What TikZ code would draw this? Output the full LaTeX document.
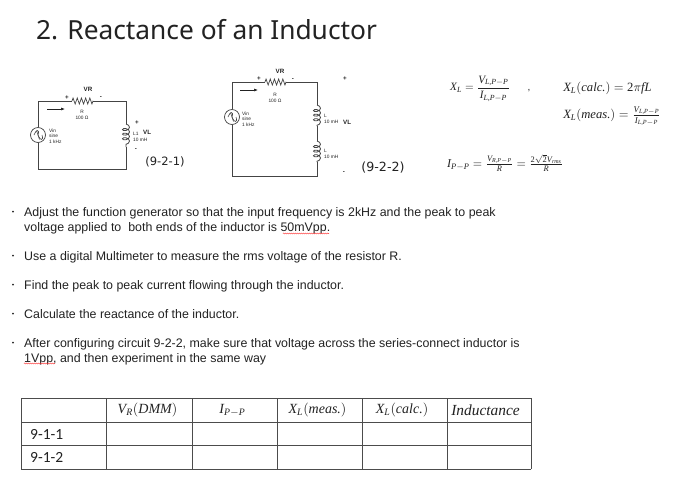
\documentclass[tikz,border=0pt]{standalone}
\usepackage{amsmath}
\usepackage[no-math]{fontspec}
\setmainfont{Liberation Sans}
\newfontfamily\titlefont{Noto Sans}
\newfontfamily\handfont{DejaVu Sans}
\newfontfamily\mfont{Liberation Serif}
\newfontfamily\rowfont{Carlito}
\usetikzlibrary{decorations.pathmorphing,arrows.meta}
\definecolor{ink}{HTML}{222222}
\definecolor{wire}{HTML}{444444}
\newcommand{\mi}[1]{\text{\mfont\itshape #1}}
\newcommand{\mr}[1]{\text{\mfont #1}}
\tikzset{
  wireline/.style={draw=wire,line width=0.8pt},
  res/.style={draw=wire,line width=0.7pt,decorate,decoration={zigzag,amplitude=3pt,segment length=4.2pt}},
  coil/.style={draw=wire,line width=0.8pt,decorate,decoration={coil,amplitude=3.5pt,segment length=4.6pt,aspect=0.6}},
  srcnode/.style={circle,draw=wire,line width=0.7pt,minimum size=15pt,inner sep=0pt},
  tiny/.style={font=\fontsize{4.8}{5.6}\selectfont,text=ink,inner sep=0pt,align=left},
  big/.style={font=\bfseries\fontsize{6.2}{7}\selectfont,text=ink,inner sep=0pt},
  hand/.style={font=\handfont\fontsize{11.5}{13}\selectfont,text=ink,inner sep=0pt},
  arrowline/.style={draw=ink,line width=0.6pt,-{Latex[length=4pt,width=3pt]}},
  body/.style={font=\fontsize{12.4}{14.5}\selectfont,text=ink,inner sep=0pt,anchor=base west},
  bullet/.style={circle,fill=ink,inner sep=0pt,minimum size=2pt},
  mth/.style={inner sep=0pt,text=ink},
  hdr/.style={inner sep=0pt,text=ink,scale=1.4},
  rowlab/.style={font=\rowfont\fontsize{15.5}{17}\selectfont,text=ink,inner sep=0pt,anchor=west},
  grid/.style={draw=black!70,line width=0.7pt},
  squig/.style={draw=red!80,line width=0.5pt,decorate,decoration={snake,amplitude=0.5pt,segment length=2pt}}
}
\newcommand{\srcwave}[1]{%
  \draw[wire,line width=0.6pt] ([xshift=-4pt]#1.center) .. controls +(2,-6) and +(2,-6) .. (#1.center) .. controls +(2,6) and +(2,6) .. ([xshift=4pt]#1.center);
  \draw[wire,line width=0.5pt] ([shift={(-1.5,-4.5)}]#1.center) -- ([shift={(1.5,4.5)}]#1.center);}
\begin{document}
\begin{tikzpicture}[x=1pt,y=-1pt]
\useasboundingbox[fill=white] (0,0) rectangle (700,496);
% title
\node[anchor=west,inner sep=0pt,text=ink,font=\titlefont\fontsize{26.3}{32}\selectfont] (title) at (36,30) {2. Reactance of an Inductor};

% circuit 9-2-1
\node[srcnode] (s1) at (38,135) {};
\srcwave{s1}
\coordinate (r1a) at (72,101);
\coordinate (r1b) at (93,101);
\coordinate (l1a) at (126,124);
\coordinate (l1b) at (126,147);
\coordinate (c1) at (38,169);
\coordinate (c2) at (126,169);
\path[wireline] (s1) |- (r1a);
\path[res] (r1a) -- (r1b);
\path[wireline] (r1b) -| (l1a);
\path[coil] (l1a) -- (l1b);
\path[wireline] (l1b) -- (c2) -- (c1) -- (s1);
\coordinate (a1s) at (47,109); \coordinate (a1e) at (65,109);
\path[arrowline] (a1s) -- (a1e);
\node[big] (vr1) at (88,89) {VR};
\node[big] (p1) at (67,98) {+};
\node[big] (m1) at (101,98) {-};
\node[tiny,align=center] (rl1) at (82,115) {R\\100 Ω};
\node[tiny,anchor=west] (vin1) at (49,136) {Vin\\sine\\1 kHz};
\node[big] (p2) at (137,123) {+};
\node[big] (m2) at (136,150) {-};
\node[tiny,anchor=west] (ll1) at (133,137) {L1\\10 mH};
\node[big,anchor=west] (vl1) at (143,132) {VL};
\node[hand] (h1) at (165,162) {(9-2-1)};

% circuit 9-2-2
\node[srcnode] (s2) at (232,117) {};
\srcwave{s2}
\coordinate (r2a) at (265,82);
\coordinate (r2b) at (286,82);
\coordinate (l2a) at (317,105);
\coordinate (l2b) at (317,126);
\coordinate (l3a) at (317,141);
\coordinate (l3b) at (317,162);
\coordinate (d1) at (317,176);
\coordinate (d2) at (232,176);
\path[wireline] (s2) |- (r2a);
\path[res] (r2a) -- (r2b);
\path[wireline] (r2b) -| (l2a);
\path[coil] (l2a) -- (l2b);
\path[wireline] (l2b) -- (l3a);
\path[coil] (l3a) -- (l3b);
\path[wireline] (l3b) -- (d1) -- (d2) -- (s2);
\coordinate (a2s) at (240,90); \coordinate (a2e) at (258,90);
\path[arrowline] (a2s) -- (a2e);
\node[big] (vr2) at (280,71) {VR};
\node[big] (p3) at (259,79) {+};
\node[big] (m3) at (293,80) {-};
\node[big] (p4) at (345,79) {+};
\node[big] (m4) at (344,173) {-};
\node[tiny,align=center] (rl2) at (275,98) {R\\100 Ω};
\node[tiny,anchor=west] (vin2) at (242,119) {Vin\\sine\\1 kHz};
\node[tiny,anchor=west] (ll2) at (324,119) {L\\10 mH};
\node[tiny,anchor=west] (ll3) at (324,154) {L\\10 mH};
\node[big,anchor=west] (vl2) at (343,122) {VL};
\node[hand,scale=1.1] (h2) at (383,168) {(9-2-2)};

% formulas
\node[mth,anchor=west,scale=1.12] (f1) at (450,88.5) {$\displaystyle \mi{X}_{\mi{L}}=\frac{\mi{V}_{\mi{L,P}-\mi{P}}}{\mi{I}_{\mi{L,P}-\mi{P}}}$};
\node[mth] (comma) at (529,91) {,};
\node[mth,anchor=west,scale=1.26] (f2) at (563,88) {$\mi{X}_{\mi{L}}(\mi{calc.})=\mr{2}\pi\mi{fL}$};
\node[mth,anchor=west,scale=1.26] (f3) at (563,116) {$\mi{X}_{\mi{L}}(\mi{meas.})=\frac{\mi{V}_{\mi{L,P}-\mi{P}}}{\mi{I}_{\mi{L,P}-\mi{P}}}$};
\node[mth,anchor=west,scale=1.2] (f4) at (447,163) {$\mi{I}_{\mi{P}-\mi{P}}=\frac{\mi{V}_{\mi{R,P}-\mi{P}}}{\mi{R}}=\frac{\mr{2}\sqrt{\mr{2}}\mi{V}_{\mi{rms}}}{\mi{R}}$};

% bullet text
\foreach \n/\y in {b1/212,b2/256,b3/285,b4/314,b5/343} \node[bullet] (\n) at (13,\y-0.5) {};
\node[body] (t1) at (24,216) {Adjust the function generator so that the input frequency is 2kHz and the peak to peak};
\node[body] (t1b) at (24,231) {voltage applied to\ \ both ends of the inductor is 50mVpp.};
\node[body] (t2) at (24,260) {Use a digital Multimeter to measure the rms voltage of the resistor R.};
\node[body] (t3) at (24,289) {Find the peak to peak current flowing through the inductor.};
\node[body] (t4) at (24,318) {Calculate the reactance of the inductor.};
\node[body] (t5) at (24,347) {After configuring circuit 9-2-2, make sure that voltage across the series-connect inductor is};
\node[body] (t5b) at (24,362) {1Vpp, and then experiment in the same way};
\coordinate (q1) at (283,233.5); \coordinate (q2) at (329,233.5);
\coordinate (q3) at (24,363.5); \coordinate (q4) at (55,363.5);
\path[squig] (q1) -- (q2);
\path[squig] (q3) -- (q4);

% table
\foreach \x in {21,106,192,277,362,447,531} \draw[grid] (\x,398) -- (\x,469);
\foreach \y in {398,422,445,469} \draw[grid] (21,\y) -- (531,\y);
\node[hdr] (h-a) at (147.5,410) {$\mi{V}_{\mi{R}}(\mi{DMM})$};
\node[hdr] (h-b) at (232.5,410.5) {$\mi{I}_{\mi{P}-\mi{P}}$};
\node[hdr] (h-c) at (317.5,410) {$\mi{X}_{\mi{L}}(\mi{meas.})$};
\node[hdr] (h-d) at (402,410) {$\mi{X}_{\mi{L}}(\mi{calc.})$};
\node[hdr,scale=1.1] (h-e) at (485.5,410) {$\mi{Inductance}$};
\node[rowlab] (r-a) at (30,434) {9-1-1};
\node[rowlab] (r-b) at (30,457) {9-1-2};
\end{tikzpicture}
\end{document}
